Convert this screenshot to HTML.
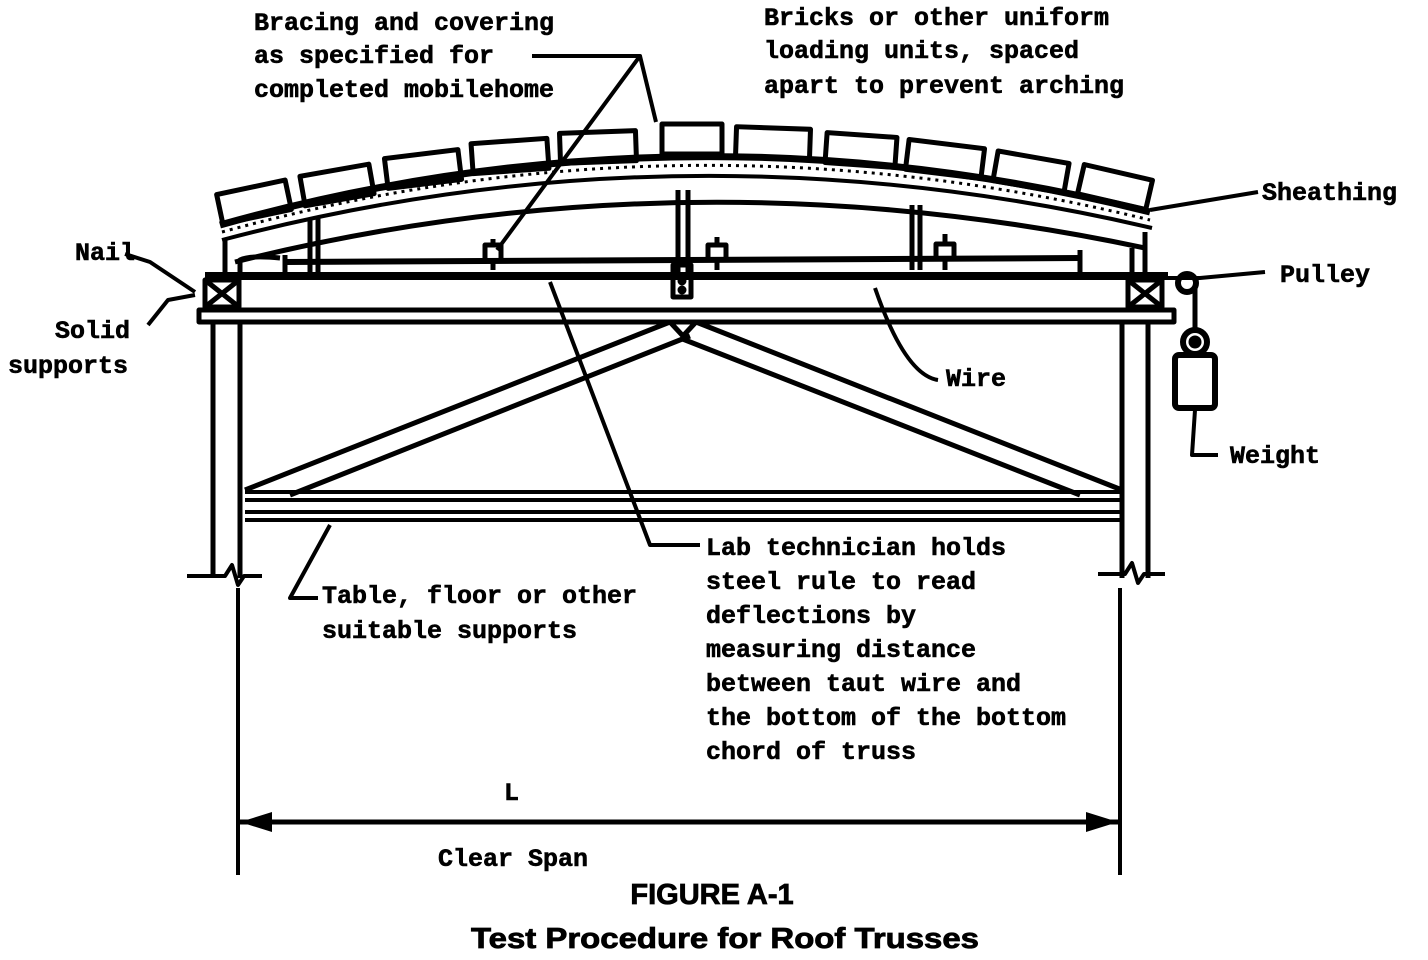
<!DOCTYPE html>
<html><head><style>
html,body{margin:0;padding:0;background:#fff;}
svg{display:block;}
.t{font-family:"Liberation Mono",monospace;font-weight:bold;font-size:25px;fill:#000;stroke:#000;stroke-width:0.6px;}
.c{font-family:"Liberation Sans",sans-serif;font-weight:bold;fill:#000;stroke:#000;stroke-width:0.8px;}
</style></head><body>
<svg width="1428" height="960" viewBox="0 0 1428 960" xmlns="http://www.w3.org/2000/svg">
<g fill="none" stroke="#000" stroke-width="5" stroke-linejoin="round">
<!-- bricks -->
<g stroke-width="5">
<rect x="219" y="187" width="70" height="30" transform="rotate(-12 254 202)"/>
<rect x="302" y="170" width="70" height="30" transform="rotate(-10 337 185)"/>
<rect x="386" y="154" width="74" height="30" transform="rotate(-7 423 169)"/>
<rect x="472" y="141" width="76" height="30" transform="rotate(-4 510 156)"/>
<rect x="560" y="132" width="76" height="30" transform="rotate(-2 598 147)"/>
<rect x="662" y="124" width="60" height="30"/>
<rect x="736" y="128" width="74" height="30" transform="rotate(2 773 143)"/>
<rect x="826" y="135" width="70" height="30" transform="rotate(4 861 150)"/>
<rect x="907" y="144" width="76" height="30" transform="rotate(7 945 159)"/>
<rect x="995" y="157" width="72" height="30" transform="rotate(10 1031 172)"/>
<rect x="1080" y="172" width="70" height="30" transform="rotate(13 1115 187)"/>
</g>
<!-- sheathing / top chord -->
<path d="M220 225 Q683 95 1150 212" stroke-width="7"/>
<path d="M222 232 Q683 105 1150 220" stroke-width="3" stroke-dasharray="3 5"/>
<path d="M222 240 Q683 118 1152 228" stroke-width="4"/>
<path d="M235 262 Q683 150 1145 248" stroke-width="5"/>
<!-- end posts -->
<path d="M225 275 V240 M240 275 V260 Q250 255 280 258 M285 275 V255"/>
<path d="M1145 275 V232 M1132 275 V248 M1080 275 V250"/>
<!-- verticals -->
<path d="M310 275 V218 M318 275 V216 M678 275 V190 M688 275 V190 M912 270 V205 M920 270 V205"/>
<!-- truss bottom chord -->
<path d="M285 262 L1080 258" stroke-width="6"/>
<!-- clamps -->
<path d="M485 258 V245 h16 v13 M493 245 v-6 M493 258 v12"/>
<path d="M708 258 V245 h18 v13 M717 245 v-8 M717 258 v12"/>
<path d="M936 258 V244 h18 v14 M945 244 v-10 M945 258 v12"/>
<!-- rule -->
<rect x="673" y="265" width="18" height="32"/>
<circle cx="682" cy="281" r="2" fill="#000"/><circle cx="682" cy="290" r="2" fill="#000"/>
<!-- table top line -->
<path d="M205 276 H1168" stroke-width="8"/>
<!-- cross boxes -->
<rect x="205" y="280" width="34" height="27"/>
<path d="M205 280 L239 307 M239 280 L205 307"/>
<rect x="1128" y="280" width="34" height="27"/>
<path d="M1128 280 L1162 307 M1162 280 L1128 307"/>
<!-- plank -->
<rect x="199" y="310" width="975" height="12"/>
<!-- legs -->
<path d="M213 322 V578 M240 322 V578 M1122 322 V578 M1148 322 V578"/>
<path d="M187 576 H225 L232 565 L238 585 L244 576 H262" stroke-width="4"/>
<path d="M1098 574 H1125 L1132 563 L1138 583 L1144 574 H1165" stroke-width="4"/>
<!-- diagonals -->
<path d="M670 322 L245 490 M690 336 L290 495" stroke-width="5"/>
<path d="M696 322 L1122 490 M680 338 L1080 495" stroke-width="5"/>
<path d="M670 322 L683 336 L696 322"/>
<!-- lower rails -->
<path d="M245 492 H1122 M245 500 H1122 M245 512 H1122 M245 520 H1122" stroke-width="4"/>
<!-- pulley and weight -->
<circle cx="1187" cy="283" r="9" stroke-width="6"/>
<path d="M1195 285 V330" stroke-width="5"/>
<rect x="1183" y="330" width="24" height="24" rx="12" stroke-width="6"/>
<circle cx="1195" cy="342" r="4" fill="#000"/>
<rect x="1175" y="355" width="40" height="53" rx="4" stroke-width="6"/>
<!-- leader lines -->
<path d="M1195 410 L1192 455 L1218 455" stroke-width="4"/>
<path d="M1165 278 L1200 278 L1265 272" stroke-width="4"/>
<path d="M1258 192 L1150 210" stroke-width="4"/>
<path d="M125 254 L150 262 L195 292" stroke-width="4"/>
<path d="M148 325 L168 300 L195 295" stroke-width="4"/>
<path d="M532 56 H640 L497 250 M640 56 L656 122" stroke-width="4"/>
<path d="M938 380 Q905 375 875 288" stroke-width="4"/>
<path d="M700 545 H650 L550 282" stroke-width="4"/>
<path d="M318 598 H290 L330 525" stroke-width="4"/>
<!-- dimension -->
<path d="M238 588 V875 M1120 588 V875" stroke-width="4"/>
<path d="M240 822 H1118" stroke-width="5"/>
</g>
<path d="M240 822 L272 812 L272 832 Z M1118 822 L1086 812 L1086 832 Z" fill="#000"/>
<!-- labels -->
<text class="t" x="254" y="30">Bracing and covering</text>
<text class="t" x="254" y="63">as specified for</text>
<text class="t" x="254" y="97">completed mobilehome</text>
<text class="t" x="764" y="25">Bricks or other uniform</text>
<text class="t" x="764" y="58">loading units, spaced</text>
<text class="t" x="764" y="93">apart to prevent arching</text>
<text class="t" x="1262" y="200">Sheathing</text>
<text class="t" x="75" y="260">Nail</text>
<text class="t" x="1280" y="282">Pulley</text>
<text class="t" x="55" y="338">Solid</text>
<text class="t" x="8" y="373">supports</text>
<text class="t" x="946" y="386">Wire</text>
<text class="t" x="1230" y="463">Weight</text>
<text class="t" x="706" y="555">Lab technician holds</text>
<text class="t" x="706" y="589">steel rule to read</text>
<text class="t" x="706" y="623">deflections by</text>
<text class="t" x="706" y="657">measuring distance</text>
<text class="t" x="706" y="691">between taut wire and</text>
<text class="t" x="706" y="725">the bottom of the bottom</text>
<text class="t" x="706" y="759">chord of truss</text>
<text class="t" x="322" y="603">Table, floor or other</text>
<text class="t" x="322" y="638">suitable supports</text>
<text class="t" x="504" y="800">L</text>
<text class="t" x="438" y="866">Clear Span</text>
<text class="c" x="712" y="904" font-size="29" text-anchor="middle">FIGURE A-1</text>
<text class="c" x="725" y="948" font-size="29" text-anchor="middle" textLength="508" lengthAdjust="spacingAndGlyphs">Test Procedure for Roof Trusses</text>
</svg>
</body></html>
